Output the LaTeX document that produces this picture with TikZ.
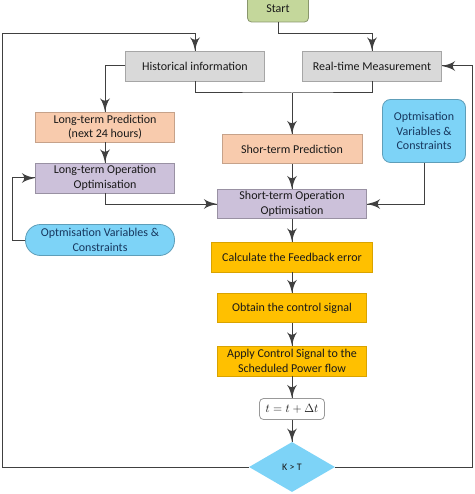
\documentclass[tikz,border=0pt]{standalone}
\usepackage{fontspec}
\setmainfont{Carlito}
\usepackage{amsmath}
\usepackage{tikz}
\usetikzlibrary{arrows}
\usetikzlibrary{decorations.markings}
\usetikzlibrary{shapes.geometric}
\definecolor{startgreen}{HTML}{C4D79B}
\definecolor{greyfill}{HTML}{D9D9D9}
\definecolor{peach}{HTML}{F8CBAD}
\definecolor{lilac}{HTML}{CCC1DA}
\definecolor{skyblue}{HTML}{7DD3F7}
\definecolor{amber}{HTML}{FFC000}
\definecolor{linegrey}{HTML}{404040}
\definecolor{textblue}{HTML}{17375E}
\tikzset{->/.style = {decoration={markings,
                                  mark=at position 1 with {\arrow[scale=2.3]{latex'}}},
                      postaction={decorate}}}
\tikzset{box/.style = {draw, line width=0.8pt, align=center, inner sep=1pt,
                       font=\fontsize{12}{14.5}\selectfont, text=black!90},
         startbox/.style = {box, fill=startgreen, draw=startgreen!70!black,
                            rounded corners=4pt, minimum width=61pt, minimum height=26pt},
         infobox/.style = {box, fill=greyfill, draw=black!35,
                           minimum width=139pt, minimum height=30pt},
         predbox/.style = {box, fill=peach, draw=peach!80!black,
                           minimum width=139pt, minimum height=30pt},
         optbox/.style = {box, fill=lilac, draw=lilac!75!black,
                          minimum width=149pt, minimum height=30pt},
         ctrlbox/.style = {box, fill=amber, draw=amber!85!black,
                           minimum width=149pt, minimum height=30pt},
         varbox/.style = {box, fill=skyblue, draw=skyblue!75!black, text=textblue},
         timebox/.style = {box, fill=white, draw=black!40, rounded corners=4pt,
                           minimum width=65pt, minimum height=21pt},
         decision/.style = {diamond, fill=skyblue, inner sep=0pt,
                            minimum width=86pt, minimum height=50pt,
                            font=\fontsize{10}{11}\selectfont, text=black!90},
         link/.style = {draw=linegrey, line width=1pt}}

\begin{document}
\begin{tikzpicture}[x=1pt, y=-1pt]
      \useasboundingbox (0, 0) rectangle (474, 494);

      \node [startbox] (start) at (278, 9) {Start};
      \node [infobox] (hist) at (195, 66) {Historical information};
      \node [infobox] (rt) at (372, 66) {Real-time Measurement};

      \node [predbox] (lpred) at (105, 127) {Long-term Prediction\\(next 24 hours)};
      \node [optbox, minimum width=139pt] (lopt) at (105, 178) {Long-term Operation\\Optimisation};
      \node [varbox, rounded corners=15pt, minimum width=149pt, minimum height=31pt]
            (lvar) at (100, 240) {Optmisation Variables \&\\Constraints};

      \node [predbox, minimum width=140pt, minimum height=29pt] (spred) at (292, 149) {Shor-term Prediction};
      \node [optbox, minimum height=29pt] (sopt) at (292, 204) {Short-term Operation\\Optimisation};
      \node [varbox, rounded corners=8pt, minimum width=83pt, minimum height=63pt]
            (rvar) at (424, 131) {Optmisation\\Variables \&\\Constraints};

      \node [ctrlbox, minimum width=161pt] (fberr) at (292, 257) {Calculate the Feedback error};
      \node [ctrlbox, minimum height=29pt] (signal) at (292, 308) {Obtain the control signal};
      \node [ctrlbox] (apply) at (292, 361) {Apply Control Signal to the\\Scheduled Power flow};
      \node [timebox] (tstep) at (292, 409) {$t = t + \Delta t$};
      \node [decision] (check) at (292, 467) {K > T};

      % loop corners and joins
      \coordinate (loopL) at (2, 34);
      \coordinate (loopR) at (472, 0);
      \coordinate (merge) at (292, 93);
      \coordinate (bendL) at (12, 0);

      \draw [link, ->] (check.west) -| (loopL) -| (hist.north);
      \draw [link, ->] (start.south) -- (start.south |- loopL) -| (rt.north);
      \draw [link, ->] (check.east) -| (loopR |- rt.east) -- (rt.east);

      \draw [link] (hist.south) |- (merge) -| (rt.south);
      \draw [link, ->] (merge) -- (spred.north);
      \draw [link, ->] (hist.west) -| (lpred.north);
      \draw [link, ->] (lpred) -- (lopt);
      \draw [link, ->] (lopt.south) |- (sopt.west);
      \draw [link, ->] (lvar.west) -| (bendL |- lopt.west) -- (lopt.west);

      \draw [link, ->] (spred) -- (sopt);
      \draw [link, ->] (rvar.south) |- (sopt.east);
      \draw [link, ->] (sopt) -- (fberr);
      \draw [link, ->] (fberr) -- (signal);
      \draw [link, ->] (signal) -- (apply);
      \draw [link, ->] (apply) -- (tstep);
      \draw [link, ->] (tstep) -- (check);
    \end{tikzpicture}
\end{document}
